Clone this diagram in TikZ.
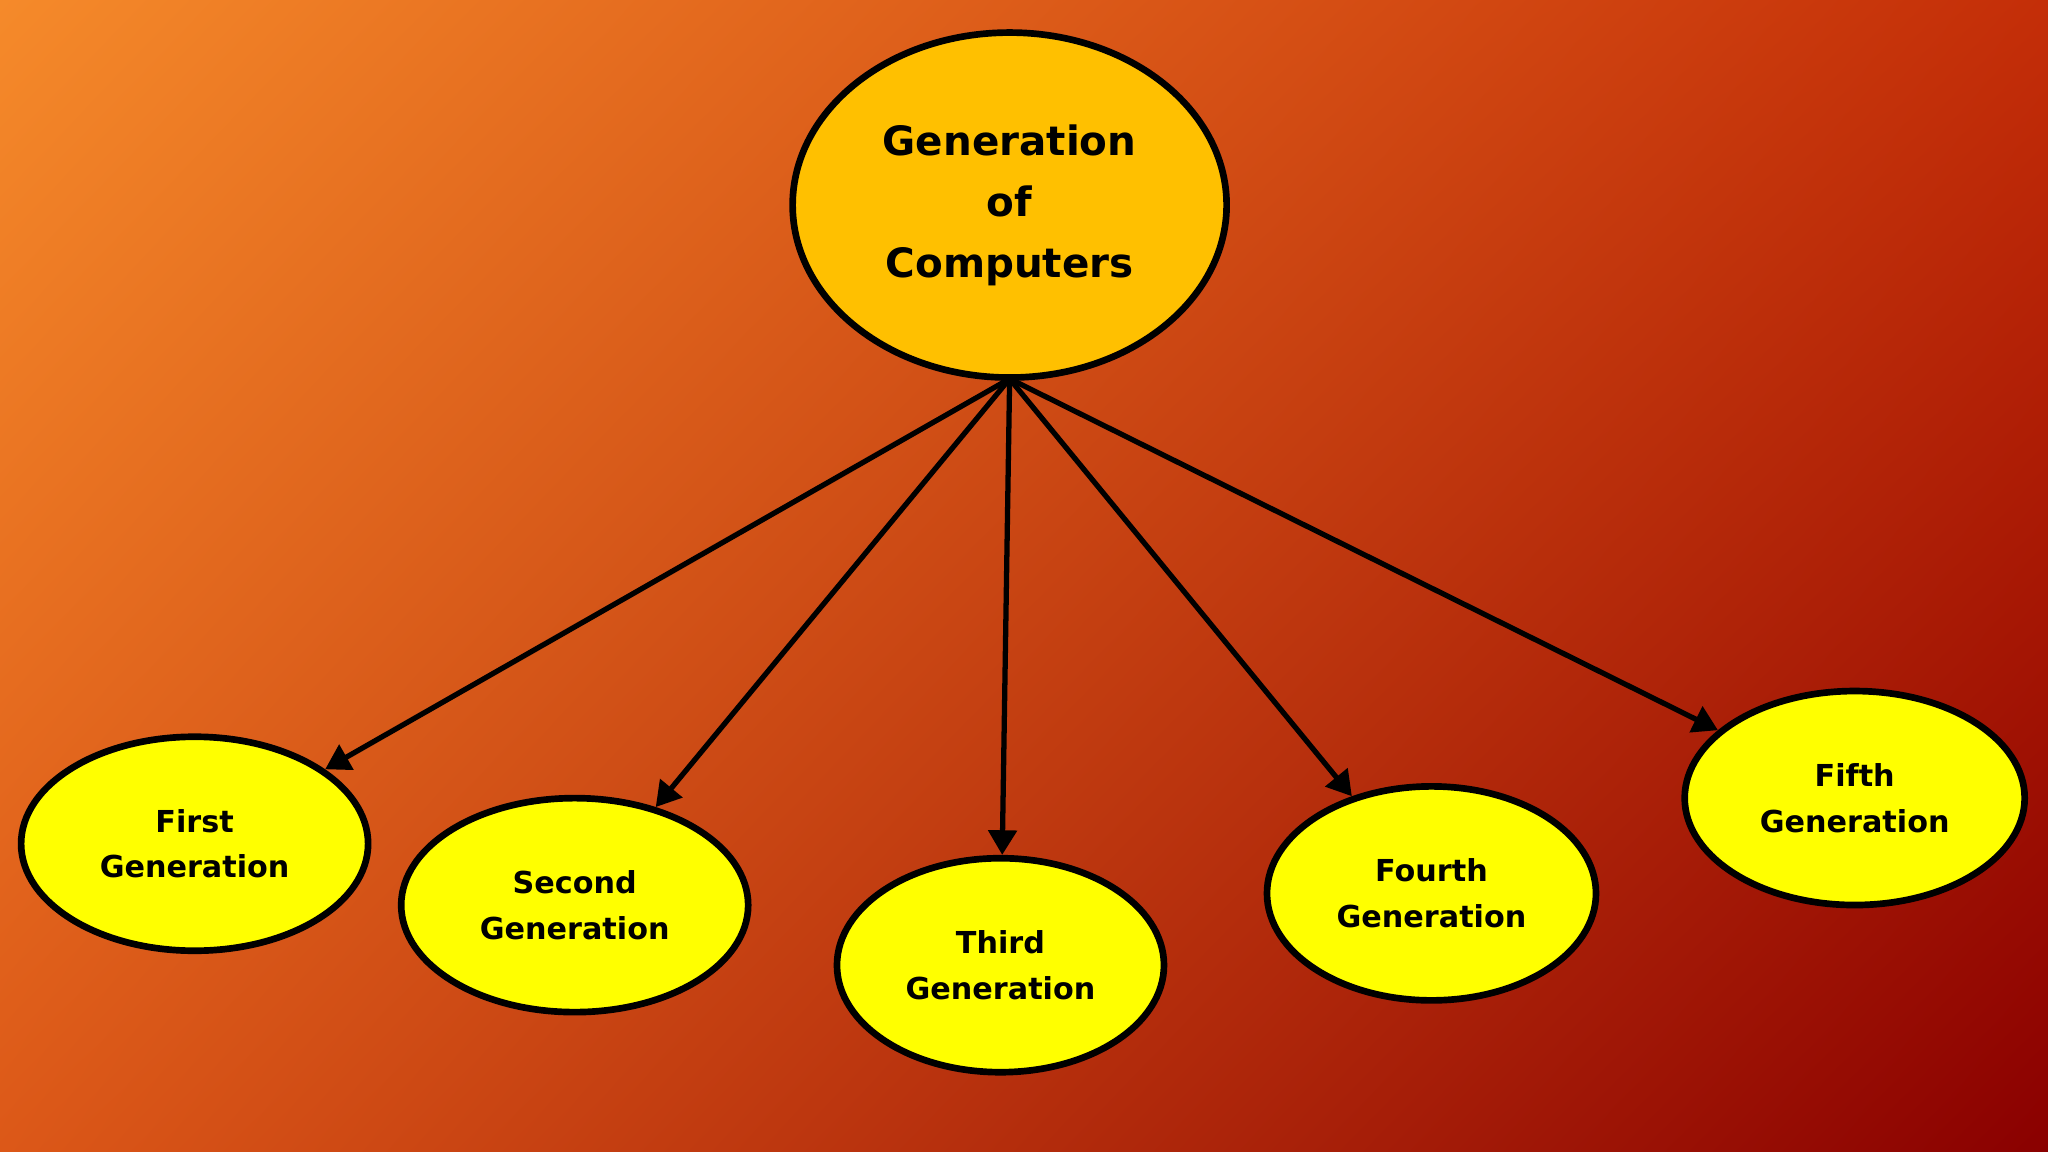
\documentclass[tikz,border=0pt]{standalone}
\usepackage{fontspec}
\setmainfont{DejaVu Sans}
\usetikzlibrary{shapes.geometric,arrows.meta,shadings}
\definecolor{ul}{HTML}{F58A2A}
\definecolor{ur}{HTML}{C42E08}
\definecolor{ll}{HTML}{DC5818}
\definecolor{lr}{HTML}{8A0000}
\definecolor{topfill}{HTML}{FFC000}
\definecolor{genfill}{HTML}{FFFF00}
\begin{document}
\begin{tikzpicture}[x=0.013061cm,y=-0.013061cm,
  ell/.style={ellipse,draw=black,line width=1.9pt,inner sep=0pt,align=center,font=\bfseries},
  gen/.style={ell,fill=genfill,font=\bfseries\fontsize{8.6}{13}\selectfont},
  conn/.style={line width=1.5pt,-{Triangle[length=7pt,width=8pt]}}]
\shade[upper left=ul,upper right=ur,lower left=ll,lower right=lr] (0,0) rectangle (1568,882);
\useasboundingbox (0,0) rectangle (1568,882);
\node[ell,fill=topfill,minimum width=4.34cm,minimum height=3.45cm,font=\bfseries\fontsize{11.5}{17.4}\selectfont] (top) at (773,157) {Generation\\of\\Computers};
\node[gen,minimum width=3.47cm,minimum height=2.14cm] (g1) at (149,646) {First\\Generation};
\node[gen,minimum width=3.47cm,minimum height=2.14cm] (g2) at (440,693) {Second\\Generation};
\node[gen,minimum width=3.27cm,minimum height=2.14cm] (g3) at (766,739) {Third\\Generation};
\node[gen,minimum width=3.29cm,minimum height=2.14cm] (g4) at (1096,684) {Fourth\\Generation};
\node[gen,minimum width=3.40cm,minimum height=2.14cm] (g5) at (1420,611) {Fifth\\Generation};
\coordinate (o) at (773,290);
\draw[conn] (o) -- (g1);
\draw[conn] (o) -- (g2);
\draw[conn] (o) -- (g3);
\draw[conn] (o) -- (g4);
\draw[conn] (o) -- (g5);
\end{tikzpicture}
\end{document}
